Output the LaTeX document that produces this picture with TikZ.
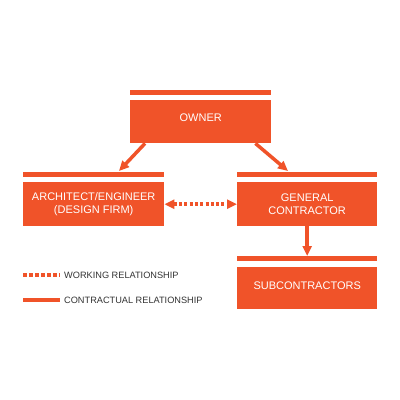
\documentclass[tikz,border=0pt]{standalone}
\usepackage{fontspec}
\setmainfont{Liberation Sans}
\usetikzlibrary{arrows.meta,calc}
\definecolor{brand}{RGB}{240,83,41}
\tikzset{
  bar/.style={fill=brand,draw=none,inner sep=0pt,anchor=north west},
  box/.style={fill=brand,draw=none,inner sep=0pt,anchor=north west},
  lbl/.style={text=white,font=\fontsize{11}{12.7}\selectfont,align=center,inner sep=0pt},
  legtxt/.style={text=black!80,font=\fontsize{9.2}{11}\selectfont,anchor=west,inner sep=0pt},
  contract/.style={draw=brand,line width=3.5pt,-{Triangle[length=10pt,width=9pt]}},
  working/.style={draw=brand,line width=3.5pt,dash pattern=on 3pt off 2.3pt,
     {Triangle[length=10pt,width=9pt]}-{Triangle[length=10pt,width=9pt]}},
}
\begin{document}
\begin{tikzpicture}[x=1pt,y=-1pt]
\useasboundingbox (0,0) rectangle (400,400);
\fill[white] (0,0) rectangle (400,400);
% owner
\node[bar,minimum width=141pt,minimum height=5pt] (ownerbar) at (130,90) {};
\node[box,minimum width=141pt,minimum height=43pt] (owner) at (130,100) {};
\node[lbl] (ownerlbl) at ($(owner.center)+(0,-3.5)$) {OWNER};
% architect
\node[bar,minimum width=141pt,minimum height=5pt] (archbar) at (23,172) {};
\node[box,minimum width=141pt,minimum height=44pt] (arch) at (23,182) {};
\node[lbl] (archlbl) at (arch.center) {ARCHITECT/ENGINEER\\(DESIGN FIRM)};
% general contractor
\node[bar,minimum width=140pt,minimum height=5pt] (gcbar) at (237,172) {};
\node[box,minimum width=140pt,minimum height=44pt] (gc) at (237,182) {};
\node[lbl] (gclbl) at (gc.center) {GENERAL\\CONTRACTOR};
% subcontractors
\node[bar,minimum width=140pt,minimum height=5pt] (subbar) at (237,256) {};
\node[box,minimum width=140pt,minimum height=42pt] (sub) at (237,267) {};
\node[lbl] (sublbl) at ($(sub.center)+(0,-2)$) {SUBCONTRACTORS};
% connectors
\draw[contract] ($(owner.south west)+(15,0)$) -- ($(archbar.north west)+(96,-1)$);
\draw[contract] ($(owner.south east)+(-16,0)$) -- ($(gcbar.north west)+(51,-1)$);
\draw[working] (arch.east) -- (gc.west);
\draw[contract] (gc.south) -- (subbar.north);
% legend
\coordinate (w1) at (23,275);
\coordinate (w2) at (60,275);
\coordinate (c1) at (23,300);
\coordinate (c2) at (60,300);
\draw[draw=brand,line width=4pt,dash pattern=on 3.5pt off 2.5pt] (w1) -- (w2);
\draw[draw=brand,line width=4pt] (c1) -- (c2);
\node[legtxt] (wtxt) at (64,275.5) {WORKING RELATIONSHIP};
\node[legtxt] (ctxt) at (64,300.5) {CONTRACTUAL RELATIONSHIP};
\end{tikzpicture}
\end{document}
